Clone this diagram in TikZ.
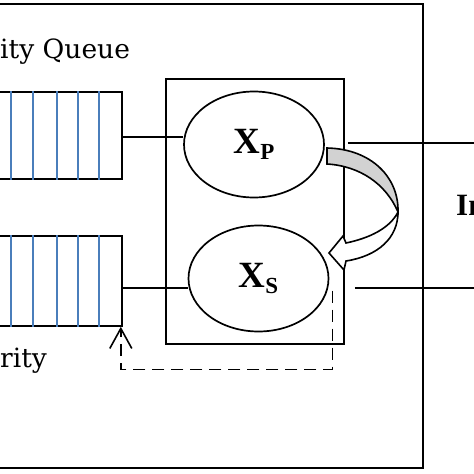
\documentclass[tikz,border=0pt]{standalone}
\usepackage{fontspec}
\setmainfont{Liberation Serif}
\newfontfamily\qfont{DejaVu Serif}
\usetikzlibrary{shapes.geometric,arrows.meta,calc}
\definecolor{qblue}{RGB}{74,126,187}
\tikzstyle{queue}=[rectangle,draw,line width=1.6pt,minimum width=142pt,inner sep=0pt]
\tikzstyle{state}=[ellipse,draw,line width=1.7pt,minimum width=140pt,minimum height=106pt,inner sep=0pt,font=\fontsize{37}{37}\selectfont\bfseries]
\tikzstyle{wire}=[line width=1.6pt]
\tikzstyle{slot}=[qblue,line width=1.2pt]
\tikzstyle{qtext}=[anchor=base west,inner sep=0pt,font=\qfont\fontsize{26.5}{26.5}\selectfont]

\begin{document}
\begin{tikzpicture}[x=1pt,y=-1pt]
    \useasboundingbox (0,0) rectangle (474,474);
    % boxes
    \node[rectangle, draw, line width=1.6pt, minimum width=443pt, minimum height=464pt, inner sep=0pt] (sys) at (201.5,236) {};
    \node[rectangle, draw, line width=1.5pt, minimum width=178pt, minimum height=265pt, inner sep=0pt] (ctl) at (255,211.5) {};
    \foreach \pos/\name/\h in {{(51,135.5)/hq/87pt}, {(51,281)/lq/90pt}}
        \node[queue, minimum height=\h] (\name) at \pos {};
    \foreach \x in {11,33,57,78,99}{
        \draw[slot] (\x,0 |- hq.north) -- (\x,0 |- hq.south);
        \draw[slot] (\x,0 |- lq.north) -- (\x,0 |- lq.south);
    }
    \node[state] (xp) at (254,144.5) {X\raisebox{-6pt}{\fontsize{23}{23}\selectfont P}};
    \node[state] (xs) at (258.5,278.5) {X\raisebox{-6pt}{\fontsize{23}{23}\selectfont S}};

    % labels
    \node[qtext] (hqlabel) at (0,58) {ity Queue};
    \node[qtext] (lqlabel) at (0,367) {rity};
    \node[anchor=base west, inner sep=0pt, font=\fontsize{31}{31}\selectfont\bfseries] (infc) at (456,215) {In};

    % links
    \coordinate (outa) at (480,143);
    \coordinate (outb) at (480,288);
             \draw[wire] ([yshift=-1.5pt]hq.east) to ([yshift=-1.5pt]hq.east -| xp.west);
             \draw[wire] ([yshift=-7pt]lq.east) to ([yshift=-7pt]lq.east -| xs.west);
             \draw[wire] ([xshift=3pt]ctl.east |- outa) to (outa);
             \draw[wire] ([xshift=10pt]ctl.east |- outb) to (outb);

    % swap arrow
    \filldraw[wire, fill=gray!35] (327,148) .. controls (372,149) and (399,178) .. (398,212)
        .. controls (386,184) and (360,166) .. (327,164) -- cycle;
    \filldraw[wire, fill=white, line join=miter] (398,212) .. controls (398,238) and (378,256) .. (346,261)
        -- (344,270) -- (329,253) -- (343,236) -- (346,243) .. controls (370,238) and (390,228) .. (398,212);

    % feedback
    \coordinate (fb) at ([xshift=3pt,yshift=-12pt]xs.east);
             \draw[wire, dash pattern=on 12pt off 7pt, -{Straight Barb[length=20pt,width=22pt]}] (fb) -- ++(0,79) -| ([xshift=-2pt]lq.south east);
\end{tikzpicture}
\end{document}
